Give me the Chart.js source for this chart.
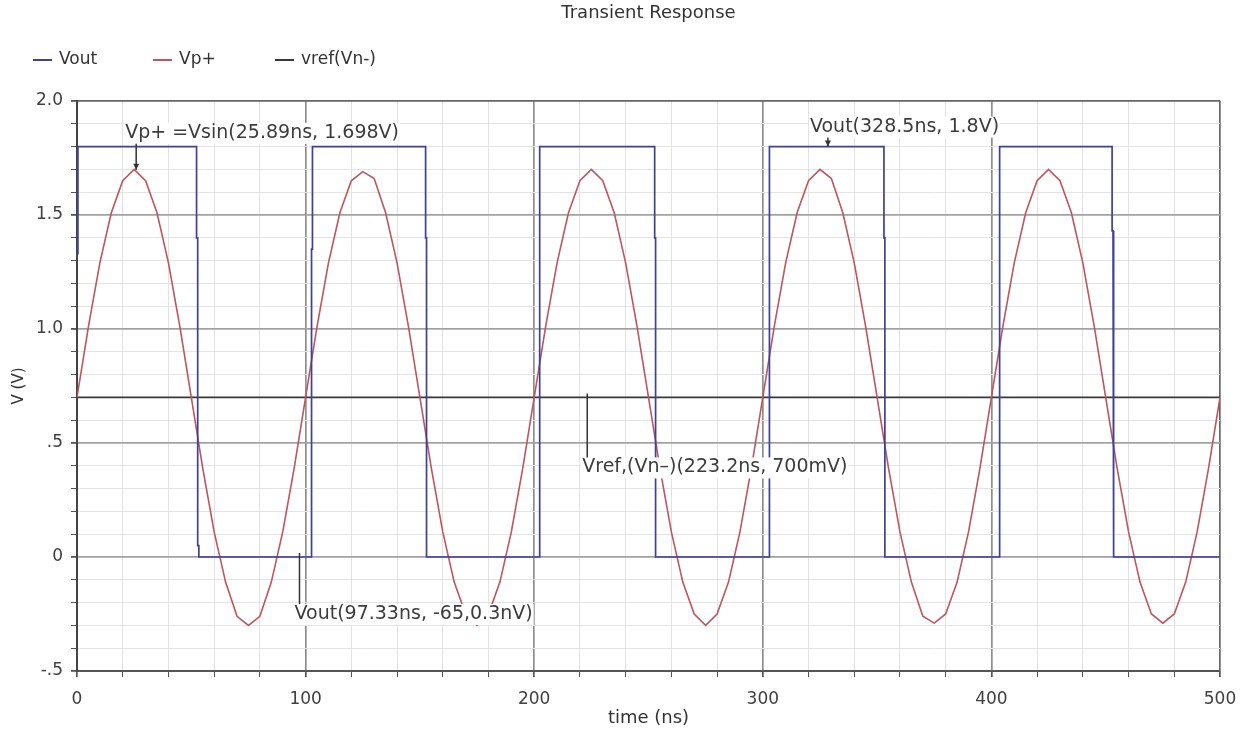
<!DOCTYPE html>
<html>
<head>
<meta charset="utf-8">
<title>Transient Response</title>
<script src="https://cdn.jsdelivr.net/npm/chart.js@4.4.1/dist/chart.umd.min.js"></script>
<style>
  html, body { margin: 0; padding: 0; background: #fff; }
  #wrap { width: 1252px; height: 729px; }
</style>
</head>
<body>
<div id="wrap"><canvas id="tranChart" width="1252" height="729"></canvas></div>
<script>
// time axis of the sampled input sine (ns)
const sineTime = [
    0, 5, 10, 15, 20, 25, 30, 35, 40, 45, 50, 55, 60, 65, 70, 75, 80, 85, 90, 95,
    100, 105, 110, 115, 120, 125, 130, 135, 140, 145, 150, 155, 160, 165, 170, 175, 180, 185, 190, 195,
    200, 205, 210, 215, 220, 225, 230, 235, 240, 245, 250, 255, 260, 265, 270, 275, 280, 285, 290, 295,
    300, 305, 310, 315, 320, 325, 330, 335, 340, 345, 350, 355, 360, 365, 370, 375, 380, 385, 390, 395,
    400, 405, 410, 415, 420, 425, 430, 435, 440, 445, 450, 455, 460, 465, 470, 475, 480, 485, 490, 495,
    500
];
// Vp+ (V)
const vpValues = [
    0.70, 1.01, 1.29, 1.51, 1.65, 1.70, 1.65, 1.51, 1.29, 1.01, 0.70, 0.39, 0.11, -0.11, -0.26, -0.30, -0.26, -0.11, 0.11, 0.39,
    0.70, 1.01, 1.29, 1.51, 1.65, 1.69, 1.66, 1.51, 1.29, 1.01, 0.70, 0.39, 0.11, -0.11, -0.25, -0.30, -0.25, -0.11, 0.11, 0.39,
    0.70, 1.01, 1.29, 1.51, 1.65, 1.70, 1.65, 1.51, 1.29, 1.01, 0.70, 0.39, 0.11, -0.11, -0.25, -0.30, -0.25, -0.11, 0.11, 0.39,
    0.70, 1.01, 1.29, 1.51, 1.65, 1.70, 1.66, 1.51, 1.29, 1.01, 0.70, 0.39, 0.11, -0.11, -0.26, -0.29, -0.25, -0.11, 0.11, 0.39,
    0.70, 1.01, 1.29, 1.51, 1.65, 1.70, 1.65, 1.51, 1.29, 1.01, 0.70, 0.39, 0.11, -0.11, -0.25, -0.29, -0.25, -0.11, 0.11, 0.39,
    0.70
];
// comparator output edges (ns, V)
const voutTime = [
    0, 0.4, 52.3, 52.3, 52.8, 52.8, 53.3, 53.3,
    102.6, 102.6, 103.0, 103.0, 152.5, 152.5, 152.9, 152.9,
    202.4, 202.4, 252.7, 252.7, 253.1, 253.1,
    302.9, 302.9, 353.0, 353.0, 353.4, 353.4,
    403.6, 403.6, 452.8, 452.8, 453.2, 453.2, 453.6, 453.6, 500
];
const voutLevel = [
    1.33, 1.80, 1.80, 1.40, 1.40, 0.05, 0.05, 0,
    0, 1.35, 1.35, 1.80, 1.80, 1.40, 1.40, 0,
    0, 1.80, 1.80, 1.40, 1.40, 0,
    0, 1.80, 1.80, 1.40, 1.40, 0,
    0, 1.80, 1.80, 1.43, 1.43, 0.05, 0.05, 0, 0
];
// reference level
const vrefTime = [0, 500];
const vrefLevel = [0.7, 0.7];

const seriesNames = ["Vout", "Vp+", "vref(Vn-)"];
const seriesColors = ["#3f4198", "#bb5760", "#383838"];

// marker readouts placed on the plot
const markers = [
    { t: 25.89, v: 1.698, text: "Vp+ =Vsin(25.89ns, 1.698V)", dx: -11, dy: -37, below: false },
    { t: 328.5, v: 1.8, text: "Vout(328.5ns, 1.8V)", dx: -18, dy: -20, below: false },
    { t: 223.2, v: 0.7, text: "Vref,(Vn\u2013)(223.2ns, 700mV)", dx: -5, dy: 70, below: true },
    { t: 97.33, v: -650.3e-9, text: "Vout(97.33ns, -65,0.3nV)", dx: -5, dy: 57, below: true }
];

function toXY(xs, ys) {
    return xs.map((x, i) => ({ x: x, y: ys[i] }));
}

function isMajor(v, step) {
    const r = v / step;
    return Math.abs(r - Math.round(r)) < 1e-6;
}

function yLabel(v) {
    if (!isMajor(v, 0.5)) return "";
    const r = Math.round(v * 10) / 10;
    if (r === 0) return "0";
    if (Math.abs(r) < 1) return (r < 0 ? "-" : "") + String(Math.abs(r)).replace("0.", ".");
    return r.toFixed(1);
}

const overlay = {
    id: "overlay",
    afterDatasetsDraw(chart) {
        const ctx = chart.ctx;
        const xs = chart.scales.x, ys = chart.scales.y;
        ctx.save();
        ctx.font = "19px 'DejaVu Sans'";
        ctx.textBaseline = "middle";
        markers.forEach(m => {
            const px = xs.getPixelForValue(m.t);
            const py = ys.getPixelForValue(m.v);
            const tx = px + m.dx;
            const ty = py + m.dy;
            const w = ctx.measureText(m.text).width;
            ctx.fillStyle = "#fff";
            ctx.fillRect(tx - 1, ty - 10, w + 2, 21);
            ctx.fillStyle = "#3c3c3c";
            ctx.textAlign = "left";
            ctx.fillText(m.text, tx, ty);
            ctx.strokeStyle = "#333";
            ctx.lineWidth = 1.5;
            ctx.beginPath();
            if (m.below) {
                ctx.moveTo(px, py - 4);
                ctx.lineTo(px, ty - 10);
            } else {
                ctx.moveTo(px, ty + 11);
                ctx.lineTo(px, py);
            }
            ctx.stroke();
            if (!m.below) {
                ctx.fillStyle = "#333";
                ctx.beginPath();
                ctx.moveTo(px - 3, py - 6);
                ctx.lineTo(px + 3, py - 6);
                ctx.lineTo(px, py);
                ctx.closePath();
                ctx.fill();
            }
        });
        ctx.restore();
    },
    afterDraw(chart) {
        const ctx = chart.ctx;
        const area = chart.chartArea;
        ctx.save();
        // title
        ctx.font = "18px 'DejaVu Sans'";
        ctx.fillStyle = "#333";
        ctx.textAlign = "center";
        ctx.textBaseline = "middle";
        ctx.fillText("Transient Response", (area.left + area.right) / 2, 13);
        // legend
        const legendX = [33, 153, 275];
        ctx.font = "17px 'DejaVu Sans'";
        ctx.textAlign = "left";
        chart.data.datasets.forEach((ds, i) => {
            const x0 = legendX[i];
            ctx.strokeStyle = ds.borderColor;
            ctx.lineWidth = 2;
            ctx.beginPath();
            ctx.moveTo(x0, 60);
            ctx.lineTo(x0 + 19, 60);
            ctx.stroke();
            ctx.fillStyle = "#333";
            ctx.fillText(ds.label, x0 + 26, 60);
        });
        ctx.restore();
    }
};

window.onload = function() {
    const ctx = document.getElementById("tranChart").getContext("2d");
    const chart = new Chart(ctx, {
        type: "scatter",
        data: {
            datasets: [{
                label: seriesNames[0],
                data: toXY(voutTime, voutLevel),
                borderColor: seriesColors[0],
                borderWidth: 1.7
            }, {
                label: seriesNames[1],
                data: toXY(sineTime, vpValues),
                borderColor: seriesColors[1],
                borderWidth: 1.6
            }, {
                label: seriesNames[2],
                data: toXY(vrefTime, vrefLevel),
                borderColor: seriesColors[2],
                borderWidth: 1.7
            }]
        },
        options: {
            responsive: false,
            animation: false,
            showLine: true,
            elements: {
                point: { radius: 0, hoverRadius: 0 },
                line: { tension: 0, fill: false }
            },
            layout: {
                padding: { top: 101, left: 0, right: 32, bottom: 0 }
            },
            plugins: {
                legend: { display: false },
                title: { display: false },
                tooltip: { enabled: false }
            },
            scales: {
                x: {
                    type: "linear",
                    min: 0,
                    max: 500,
                    afterFit: s => { s.height = 58; },
                    ticks: {
                        stepSize: 20,
                        autoSkip: false,
                        maxRotation: 0,
                        padding: 12,
                        color: "#404040",
                        font: { family: "DejaVu Sans", size: 17 },
                        callback: v => isMajor(v, 100) ? String(v) : ""
                    },
                    grid: {
                        color: c => (c.tick && isMajor(c.tick.value, 100)) ? (c.tick.value === 500 ? "#666" : "#8e8e8e") : "#e2e2e2",
                        lineWidth: c => (c.tick && isMajor(c.tick.value, 100)) ? 1.7 : 1,
                        tickLength: 6,
                        tickColor: "#555"
                    },
                    border: { color: "#555", width: 2 },
                    title: {
                        display: true,
                        text: "time (ns)",
                        color: "#333",
                        font: { family: "DejaVu Sans", size: 18 },
                        padding: { top: 0, bottom: 0 }
                    }
                },
                y: {
                    min: -0.5,
                    max: 2.0,
                    afterFit: s => { s.width = 77; },
                    ticks: {
                        stepSize: 0.1,
                        autoSkip: false,
                        padding: 8,
                        color: "#404040",
                        font: { family: "DejaVu Sans", size: 17 },
                        callback: v => yLabel(v)
                    },
                    grid: {
                        color: c => {
                            if (!c.tick) return "#e2e2e2";
                            if (Math.abs(c.tick.value - 2.0) < 1e-6) return "#666";
                            return isMajor(c.tick.value, 0.5) ? "#a2a2a2" : "#e4e4e4";
                        },
                        lineWidth: c => (c.tick && isMajor(c.tick.value, 0.5)) ? 1.8 : 1,
                        tickLength: 6,
                        tickColor: "#555"
                    },
                    border: { color: "#444", width: 2 },
                    title: {
                        display: true,
                        text: "V (V)",
                        color: "#333",
                        font: { family: "DejaVu Sans", size: 15 },
                        padding: { top: 10, bottom: 0 }
                    }
                }
            }
        },
        plugins: [overlay]
    });
    console.log(chart.chartArea);
};
</script>
</body>
</html>
